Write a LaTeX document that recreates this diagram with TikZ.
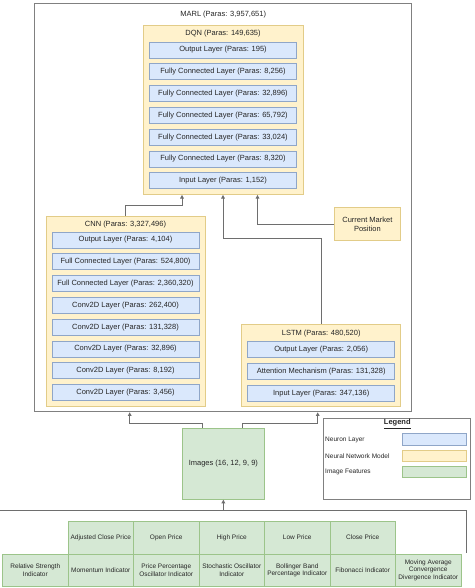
\documentclass[tikz,border=0pt]{standalone}
\usepackage{fontspec}
\setmainfont{Liberation Sans}
\usetikzlibrary{arrows.meta}
\definecolor{lfill}{HTML}{DAE8FC}
\definecolor{ldraw}{HTML}{8FA6C8}
\definecolor{mfill}{HTML}{FFF2CC}
\definecolor{mdraw}{HTML}{E2CC88}
\definecolor{gfill}{HTML}{D5E8D4}
\definecolor{gdraw}{HTML}{9CC48A}
\definecolor{fgray}{HTML}{808080}
\definecolor{cgray}{HTML}{6E6E6E}
\definecolor{txt}{HTML}{262626}
\begin{document}
\begin{tikzpicture}[x=1pt,y=-1pt,
  every node/.style={text=txt},
  font=\fontsize{7.5}{9}\selectfont,
  layer/.style={draw=ldraw, fill=lfill, line width=0.8pt, minimum width=147pt, minimum height=16pt, inner sep=0pt},
  model/.style={draw=mdraw, fill=mfill, line width=0.8pt, inner sep=0pt},
  feat/.style={draw=gdraw, fill=gfill, line width=0.6pt, minimum width=65.5pt, minimum height=32.8pt, inner sep=0pt, align=center, font=\fontsize{6.5}{7.6}\selectfont},
  frame/.style={draw=fgray, line width=1.2pt, inner sep=0pt},
  conn/.style={draw=cgray, line width=1pt},
  arr/.style={conn, -{Triangle[width=3.6pt,length=3.6pt]}},
  swatch/.style={draw=#1, line width=0.6pt, minimum width=63.7pt, minimum height=11.5pt, inner sep=0pt},
  legtext/.style={anchor=west, inner sep=0pt, font=\fontsize{6.5}{7.8}\selectfont},
]
\useasboundingbox (0,0) rectangle (474,588);
\fill[white] (0,0) rectangle (474,588);

% MARL frame
\node[frame, minimum width=377pt, minimum height=408.4pt] (marl) at (223.2,207.5) {};
\node (marlt) at (223.2,14.7) {MARL (Paras: 3,957,651)};

% DQN
\node[model, minimum width=160pt, minimum height=169.5pt] (dqn) at (223,109.75) {};
\node (dqnt) at (223,34) {DQN (Paras: 149,635)};
\node[layer] (d1) at (223,50) {Output Layer (Paras: 195)};
\node[layer] (d2) at (223,71.8) {Fully Connected Layer (Paras: 8,256)};
\node[layer] (d3) at (223,93.6) {Fully Connected Layer (Paras: 32,896)};
\node[layer] (d4) at (223,115.4) {Fully Connected Layer (Paras: 65,792)};
\node[layer] (d5) at (223,137.2) {Fully Connected Layer (Paras: 33,024)};
\node[layer] (d6) at (223,159) {Fully Connected Layer (Paras: 8,320)};
\node[layer] (d7) at (223,180.8) {Input Layer (Paras: 1,152)};

% CNN
\node[model, minimum width=159pt, minimum height=190.7pt] (cnn) at (125.5,311.35) {};
\node (cnnt) at (125.5,225) {CNN (Paras: 3,327,496)};
\node[layer] (c1) at (125.5,240) {Output Layer (Paras: 4,104)};
\node[layer] (c2) at (125.5,261.8) {Full Connected Layer (Paras: 524,800)};
\node[layer] (c3) at (125.5,283.6) {Full Connected Layer (Paras: 2,360,320)};
\node[layer] (c4) at (125.5,305.4) {Conv2D Layer (Paras: 262,400)};
\node[layer] (c5) at (125.5,327.2) {Conv2D Layer (Paras: 131,328)};
\node[layer] (c6) at (125.5,349) {Conv2D Layer (Paras: 32,896)};
\node[layer] (c7) at (125.5,370.8) {Conv2D Layer (Paras: 8,192)};
\node[layer] (c8) at (125.5,392.6) {Conv2D Layer (Paras: 3,456)};

% LSTM
\node[model, minimum width=159pt, minimum height=82.4pt] (lstm) at (321.2,365.5) {};
\node (lstmt) at (321.2,333.3) {LSTM (Paras: 480,520)};
\node[layer] (l1) at (321.2,349.7) {Output Layer (Paras: 2,056)};
\node[layer] (l2) at (321.2,371.4) {Attention Mechanism (Paras: 131,328)};
\node[layer] (l3) at (321.2,393.1) {Input Layer (Paras: 347,136)};

% Current market position
\node[model, minimum width=66.7pt, minimum height=33.4pt, align=center] (cmp) at (367.35,224) {Current Market\\Position};

% connectors into DQN
\draw[arr] (cnn.north) |- ([xshift=-41pt]dqn.south |- 0,205) -- ([xshift=-41pt]dqn.south);
\draw[arr] (lstm.north) |- (dqn.south |- 0,238.3) -- (dqn.south);
\draw[arr] (cmp.west) -| ([xshift=34.5pt]dqn.south);

% Images
\node[draw=gdraw, fill=gfill, line width=0.8pt, minimum width=81.3pt, minimum height=71pt, inner sep=0pt] (img) at (223.35,463.8) {Images (16, 12, 9, 9)};
\draw[arr] ([xshift=-20.5pt]img.north) |- ([xshift=-93.5pt]marl.south |- 0,423.3) -- ([xshift=-93.5pt]marl.south);
\draw[arr] ([xshift=19.5pt]img.north) |- ([xshift=94.5pt]marl.south |- 0,423.3) -- ([xshift=94.5pt]marl.south);

% Legend
\node[frame, minimum width=147.4pt, minimum height=81pt] (leg) at (397,458.8) {};
\node[font=\bfseries\fontsize{7.5}{9}\selectfont] (legt) at (397.3,424) {\underline{Legend}};
\node[legtext] (lg1) at (325,439.5) {Neuron Layer};
\node[legtext] (lg2) at (325,455.8) {Neural Network Model};
\node[legtext] (lg3) at (325,471.8) {Image Features};
\node[swatch=ldraw, fill=lfill] (s1) at (434.2,439.5) {};
\node[swatch=mdraw, fill=mfill] (s2) at (434.2,455.8) {};
\node[swatch=gdraw, fill=gfill] (s3) at (434.2,471.8) {};

% bottom bracket line
\coordinate (bl) at (0,510);
\coordinate (br) at (466,510);
\coordinate (bd) at (466,553);
\draw[conn] (bl) -- (br) -- (bd);
\draw[arr] (img.south |- bl) -- (img.south);

% features, top row
\node[feat] (t1) at (100.75,537.5) {Adjusted Close Price};
\node[feat] (t2) at (166.25,537.5) {Open Price};
\node[feat] (t3) at (231.75,537.5) {High Price};
\node[feat] (t4) at (297.25,537.5) {Low Price};
\node[feat] (t5) at (362.75,537.5) {Close Price};
% features, bottom row
\node[feat] (b1) at (35.25,570.3) {Relative Strength\\Indicator};
\node[feat] (b2) at (100.75,570.3) {Momentum Indicator};
\node[feat] (b3) at (166.25,570.3) {Price Percentage\\Oscillator Indicator};
\node[feat] (b4) at (231.75,570.3) {Stochastic Oscillator\\Indicator};
\node[feat] (b5) at (297.25,570.3) {Bollinger Band\\Percentage Indicator};
\node[feat] (b6) at (362.75,570.3) {Fibonacci Indicator};
\node[feat] (b7) at (428.25,570.3) {Moving Average\\Convergence\\Divergence Indicator};
\end{tikzpicture}
\end{document}
